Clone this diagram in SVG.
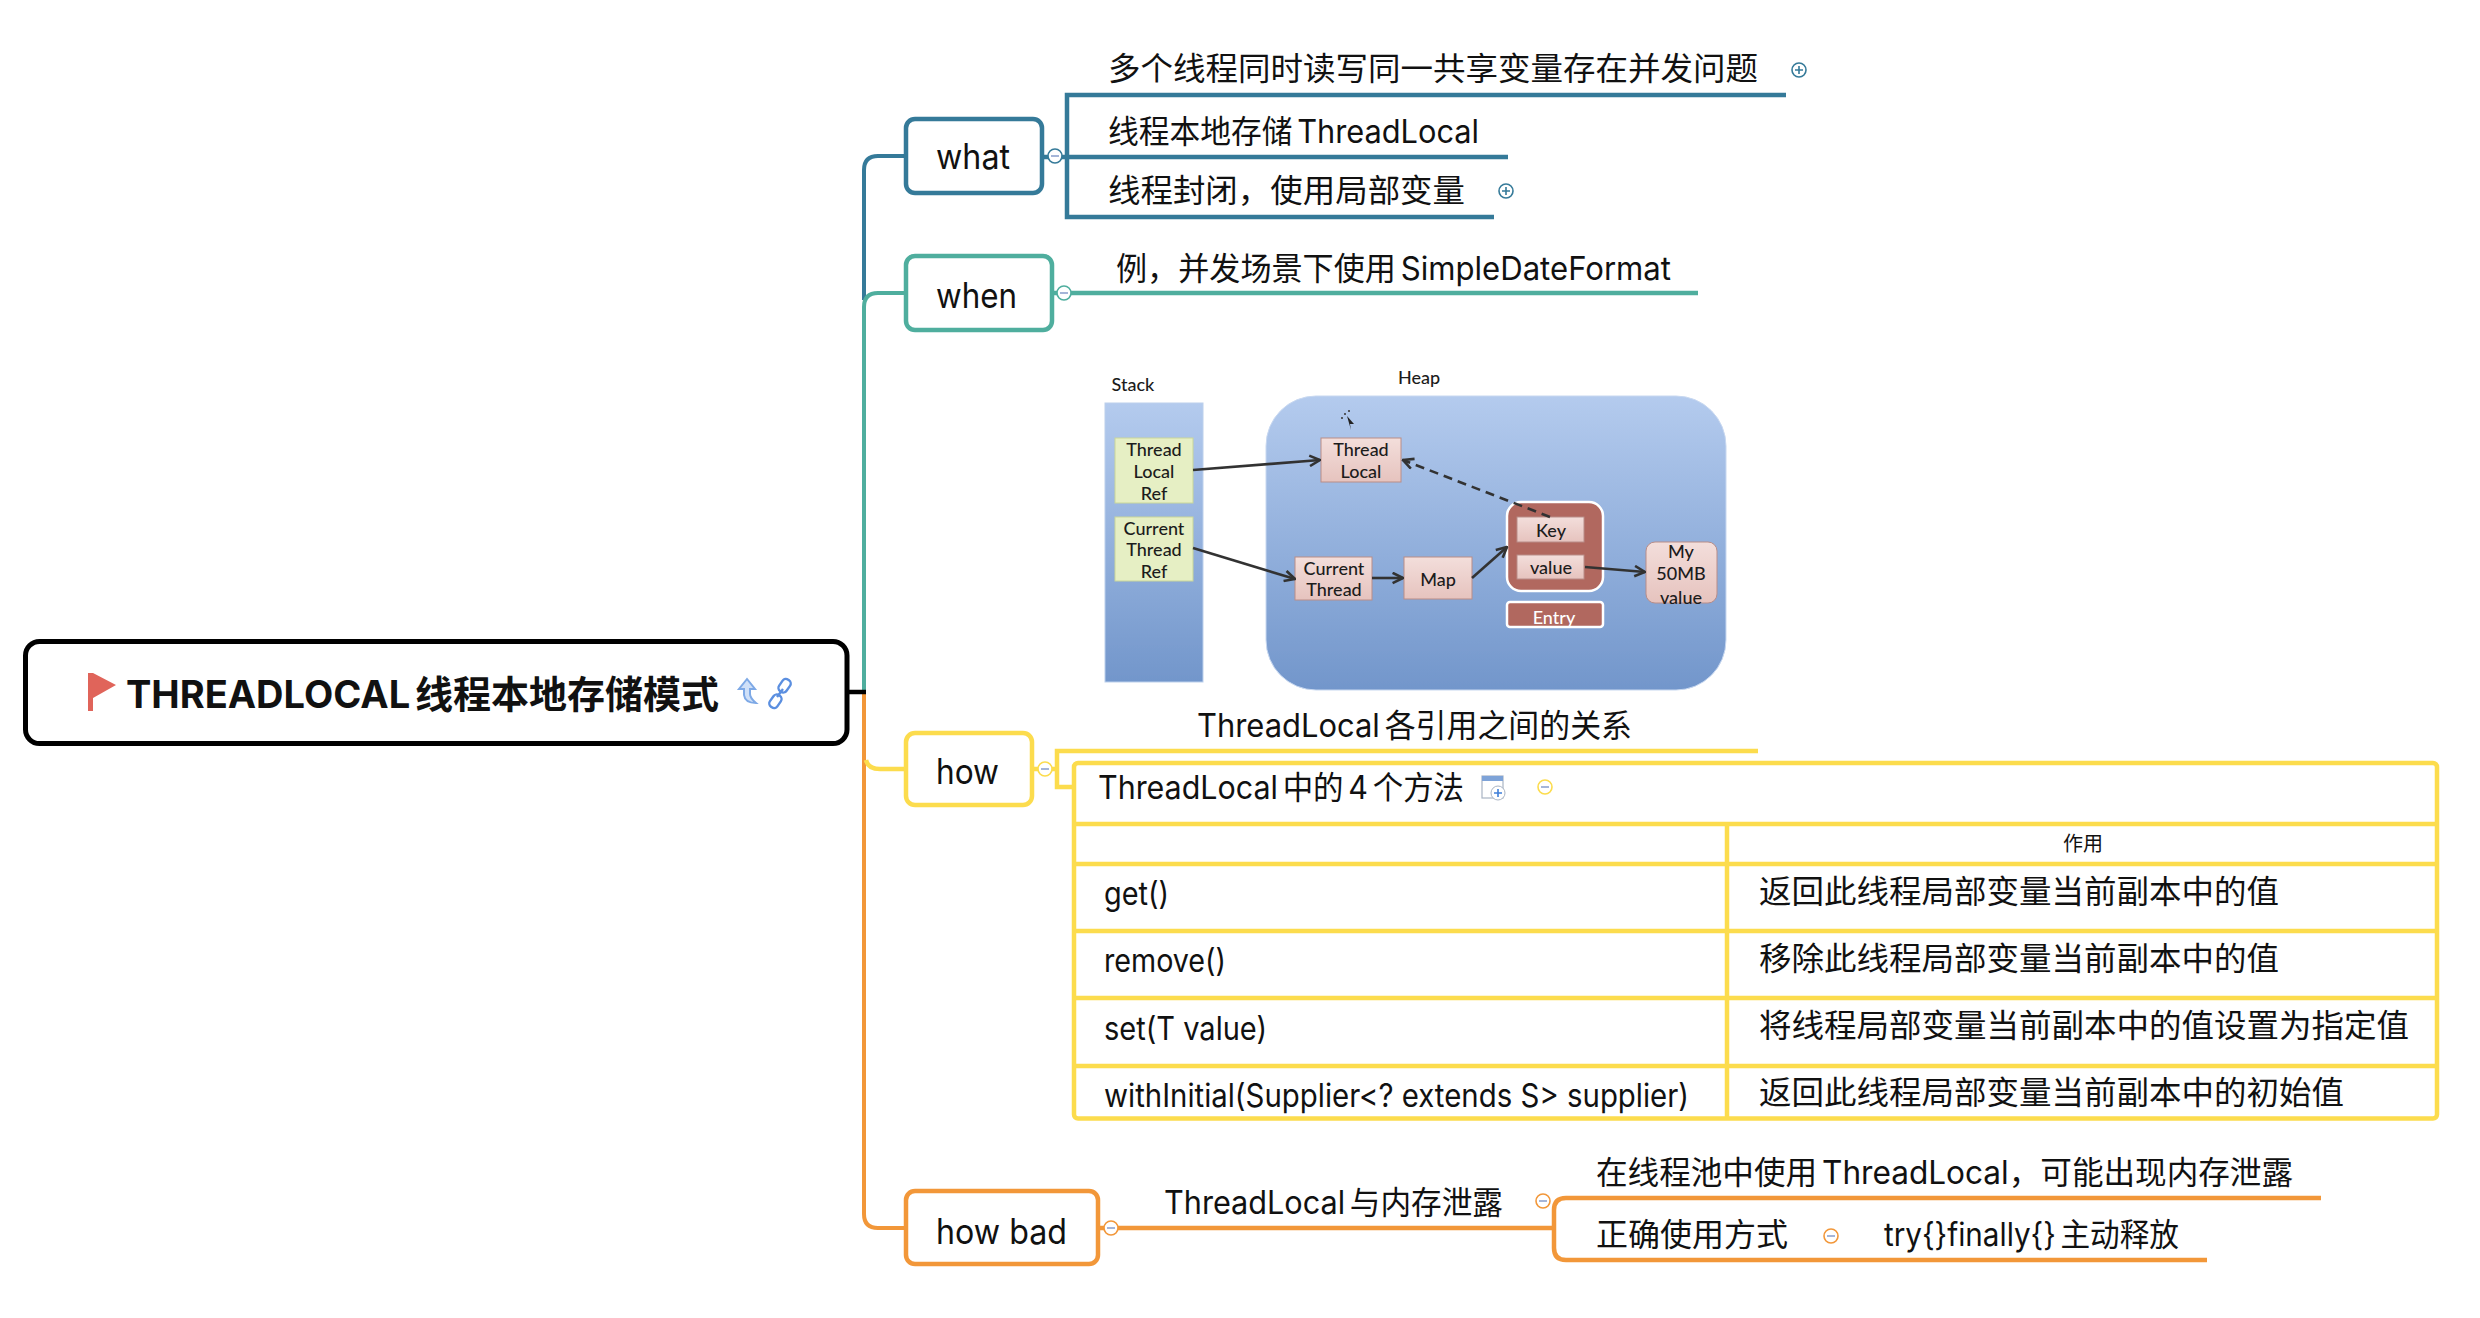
<svg xmlns="http://www.w3.org/2000/svg" width="2480" height="1318" viewBox="0 0 2480 1318">
<style>
text{font-family:"Inter","Noto Sans CJK SC","Liberation Sans",sans-serif;fill:#111;font-size:32px}
.b{font-size:35px}
.rt{font-size:38px;font-weight:700}
.m{word-spacing:-4px}
.box{fill:#fff;stroke-width:4.5}
.ln{fill:none;stroke-width:4.5}
.tr{fill:none;stroke-width:4}
.blue{stroke:#357a99}.teal{stroke:#4fae9e}.yel{stroke:#fcdc4d}.org{stroke:#f29739}.blk{stroke:#000}
.tog{fill:#fff;stroke-width:1.6}
.dash{stroke:#8fa3cf;stroke-width:1.6;fill:none}
.im text{font-family:"Lato","Open Sans",sans-serif;font-size:18px;font-weight:500;fill:#1c1c1c;text-anchor:middle}
.gn{fill:#e6efc4;stroke:#c9d69a;stroke-width:1}
.pk{fill:url(#pg);stroke:#b98d88;stroke-width:1}
.ar{stroke:#333;stroke-width:2.6;fill:none;marker-end:url(#ah)}
</style>
<defs>
<marker id="ah" viewBox="0 0 10 10" refX="9" refY="5" markerWidth="5" markerHeight="5" orient="auto"><path d="M1 1L9 5L1 9" fill="none" stroke="#333" stroke-width="2"/></marker>
<linearGradient id="hg" x1="0" y1="0" x2="0" y2="1"><stop offset="0" stop-color="#b4cbee"/><stop offset="1" stop-color="#7296cb"/></linearGradient>
<linearGradient id="pg" x1="0" y1="0" x2="0" y2="1"><stop offset="0" stop-color="#f3dedb"/><stop offset="1" stop-color="#e6c3be"/></linearGradient>
<filter id="soft" x="-2%" y="-2%" width="104%" height="104%"><feGaussianBlur stdDeviation="0.6"/></filter>
</defs>

<g id="connectors">
<path class="tr blue" d="M904 156H878Q864 156 864 170V300"/>
<path class="tr teal" d="M904 293H878Q864 293 864 307V692"/>
<path class="tr org" d="M864 692V1214Q864 1228 878 1228H904"/>
<path class="ln yel" d="M866 760Q868 769 880 769H904"/>
<path class="ln blk" d="M847 692H866"/>
<path class="ln blue" d="M1786 95H1067V217H1494M1044 157H1508"/>
<path class="ln teal" d="M1051 293H1698"/>
<path class="ln yel" d="M1758 751H1057V787H1072M1034 769H1057"/>
<path class="ln org" d="M1097 1228H1554"/>
<path class="ln org" d="M2321 1198H1566Q1554 1198 1554 1210V1248Q1554 1260 1566 1260H2207"/>
</g>

<g id="root">
<rect class="box blk" x="25.5" y="641.5" width="821.5" height="102" rx="14" style="stroke-width:5"/>
<path d="M88 673H93L116 685L93 698V711H88Z" fill="#e0645a"/>
<text class="rt m" x="126" y="708" textLength="593" lengthAdjust="spacingAndGlyphs">THREADLOCAL 线程本地存储模式</text>
<g fill="none" stroke="#7ea9e6" stroke-width="2"><path d="M747 679L739 689H744V695Q745 703 756 703Q750 698 750 694V689H755Z" fill="#cfe0f8"/></g>
<g fill="none" stroke="#5b8fe0" stroke-width="2.4"><rect x="771" y="694" width="9" height="14" rx="4" transform="rotate(35 775 701)"/><rect x="780" y="679" width="9" height="14" rx="4" transform="rotate(35 785 686)"/><path d="M777 697L783 689"/></g>
</g>

<g id="what">
<rect class="box blue" x="906" y="119" width="136" height="74" rx="9"/>
<text class="b" x="936" y="169" textLength="74" lengthAdjust="spacingAndGlyphs">what</text>
<circle class="tog blue" cx="1055" cy="156" r="7"/><path class="dash" d="M1051 156H1059"/>
</g>
<g id="what-1">
<text x="1108" y="80" textLength="650" lengthAdjust="spacingAndGlyphs">多个线程同时读写同一共享变量存在并发问题</text>
<circle class="tog blue" cx="1799" cy="70" r="7"/><path d="M1795 70H1803M1799 66V74" stroke="#357a99" stroke-width="1.6"/>
</g>
<g id="what-2"><text class="m" x="1108" y="143" textLength="371" lengthAdjust="spacingAndGlyphs">线程本地存储 ThreadLocal</text></g>
<g id="what-3">
<text x="1108" y="202" textLength="357" lengthAdjust="spacingAndGlyphs">线程封闭，使用局部变量</text>
<circle class="tog blue" cx="1506" cy="191" r="7"/><path d="M1502 191H1510M1506 187V195" stroke="#357a99" stroke-width="1.6"/>
</g>

<g id="when">
<rect class="box teal" x="906" y="256" width="146" height="74" rx="9"/>
<text class="b" x="936" y="308" textLength="81" lengthAdjust="spacingAndGlyphs">when</text>
<circle class="tog teal" cx="1064" cy="293" r="7"/><path class="dash" d="M1060 293H1068"/>
</g>
<g id="when-1"><text class="m" x="1116" y="280" textLength="555" lengthAdjust="spacingAndGlyphs">例，并发场景下使用 SimpleDateFormat</text></g>

<g id="how">
<rect class="box yel" x="906" y="733" width="126" height="72" rx="9"/>
<text class="b" x="936" y="784" textLength="63" lengthAdjust="spacingAndGlyphs">how</text>
<circle class="tog yel" cx="1045" cy="769" r="7"/><path class="dash" d="M1041 769H1049"/>
</g>
<g id="how-image" class="im">
<g filter="url(#soft)">
<rect x="1105" y="403" width="98" height="279" fill="url(#hg)" stroke="#bcd0ec"/>
<rect x="1266" y="396" width="460" height="294" rx="50" fill="url(#hg)" stroke="#c8d8f0"/>
<rect class="gn" x="1115" y="438" width="78" height="65"/>
<rect class="gn" x="1115" y="517" width="78" height="64"/>
<rect class="pk" x="1321" y="438" width="80" height="44"/>
<rect class="pk" x="1295" y="557" width="77" height="43"/>
<rect class="pk" x="1404" y="557" width="68" height="42"/>
<rect x="1507" y="502" width="96" height="89" rx="14" fill="#b1675e" stroke="#fff" stroke-width="2.5"/>
<rect class="pk" x="1517" y="517" width="67" height="25"/>
<rect class="pk" x="1517" y="555" width="67" height="24"/>
<rect class="pk" x="1646" y="542" width="71" height="61" rx="9"/>
<rect x="1507" y="602" width="96" height="25" rx="3" fill="#b1675e" stroke="#fff" stroke-width="2.5"/>
<path class="ar" d="M1193 470L1320 460"/>
<path class="ar" d="M1193 548L1295 579"/>
<path class="ar" d="M1372 578H1403"/>
<path class="ar" d="M1472 578L1507 547"/>
<path class="ar" d="M1585 567L1645 572"/>
<path class="ar" stroke-dasharray="9 6" d="M1550 517L1403 460"/>
<path d="M1347 416L1354 424L1350 424L1351 430Z" fill="#222"/>
<g fill="#333"><circle cx="1349" cy="411" r="1"/><circle cx="1342" cy="418" r="1"/><circle cx="1345" cy="414" r="1"/></g>
</g>
<text x="1133" y="391">Stack</text><text x="1419" y="384">Heap</text>
<text x="1154" y="456">Thread</text><text x="1154" y="478">Local</text><text x="1154" y="500">Ref</text>
<text x="1154" y="535">Current</text><text x="1154" y="556">Thread</text><text x="1154" y="578">Ref</text>
<text x="1361" y="456">Thread</text><text x="1361" y="478">Local</text>
<text x="1334" y="575">Current</text><text x="1334" y="596">Thread</text>
<text x="1438" y="586">Map</text>
<text x="1551" y="537">Key</text><text x="1551" y="574">value</text>
<text x="1681" y="558">My</text><text x="1681" y="580">50MB</text><text x="1681" y="604">value</text>
<text x="1554" y="624" style="fill:#fff">Entry</text>
</g>
<g id="how-caption"><text class="m" x="1197" y="737" textLength="435" lengthAdjust="spacingAndGlyphs">ThreadLocal 各引用之间的关系</text></g>
<g id="how-table">
<path class="ln yel" d="M1727 824V1118M1074 824H2437M1074 864H2437M1074 931H2437M1074 998H2437M1074 1066H2437"/>
<rect class="ln yel" x="1074" y="763" width="1363" height="355.500" rx="4"/>
<text class="m" x="1098" y="799" textLength="366" lengthAdjust="spacingAndGlyphs">ThreadLocal 中的 4 个方法</text>
<g>
<rect x="1482" y="776" width="21" height="22" fill="#fff" stroke="#a9b4c4" stroke-width="1.2"/><rect x="1482" y="776" width="21" height="5" fill="#7ea3d8"/>
<circle cx="1498" cy="793" r="7" fill="#fff" stroke="#a9b4c4"/><path d="M1494 793H1502M1498 789V797" stroke="#3f7fd9" stroke-width="1.6"/>
</g>
<circle class="tog yel" cx="1545" cy="787" r="7"/><path class="dash" d="M1541 787H1549"/>
<text x="2083" y="851" style="font-size:20px" text-anchor="middle">作用</text>
<text x="1104" y="905" textLength="65" lengthAdjust="spacingAndGlyphs">get()</text>
<text x="1104" y="972" textLength="122" lengthAdjust="spacingAndGlyphs">remove()</text>
<text x="1104" y="1040" textLength="163" lengthAdjust="spacingAndGlyphs">set(T value)</text>
<text x="1104" y="1107" textLength="585" lengthAdjust="spacingAndGlyphs">withInitial(Supplier&lt;? extends S&gt; supplier)</text>
<text x="1759" y="903" textLength="520" lengthAdjust="spacingAndGlyphs">返回此线程局部变量当前副本中的值</text>
<text x="1759" y="970" textLength="520" lengthAdjust="spacingAndGlyphs">移除此线程局部变量当前副本中的值</text>
<text x="1759" y="1037" textLength="650" lengthAdjust="spacingAndGlyphs">将线程局部变量当前副本中的值设置为指定值</text>
<text x="1759" y="1104" textLength="585" lengthAdjust="spacingAndGlyphs">返回此线程局部变量当前副本中的初始值</text>
</g>

<g id="howbad">
<rect class="box org" x="906" y="1191" width="192" height="73" rx="9"/>
<text class="b" x="936" y="1244" textLength="131" lengthAdjust="spacingAndGlyphs">how bad</text>
<circle class="tog org" cx="1111" cy="1228" r="7"/><path class="dash" d="M1107 1228H1115"/>
</g>
<g id="howbad-1">
<text class="m" x="1164" y="1214" textLength="339" lengthAdjust="spacingAndGlyphs">ThreadLocal 与内存泄露</text>
<circle class="tog org" cx="1543" cy="1201" r="7"/><path class="dash" d="M1539 1201H1547"/>
</g>
<g id="howbad-2"><text class="m" x="1596" y="1184" textLength="697" lengthAdjust="spacingAndGlyphs">在线程池中使用 ThreadLocal，可能出现内存泄露</text></g>
<g id="howbad-3">
<text x="1596" y="1246" textLength="192" lengthAdjust="spacingAndGlyphs">正确使用方式</text>
<circle class="tog org" cx="1831" cy="1236" r="7"/><path class="dash" d="M1827 1236H1835"/>
</g>
<g id="howbad-4"><text class="m" x="1884" y="1246" textLength="295" lengthAdjust="spacingAndGlyphs">try{}finally{} 主动释放</text></g>
</svg>
